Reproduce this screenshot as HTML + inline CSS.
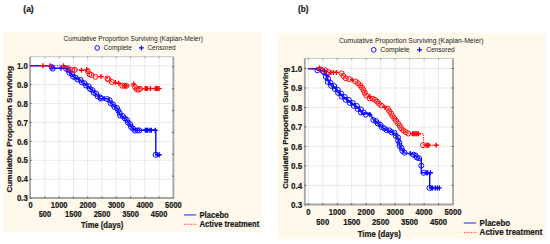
<!DOCTYPE html><html><head><meta charset="utf-8"><style>html,body{margin:0;padding:0;background:#fff;width:550px;height:244px;overflow:hidden}svg{display:block}text{font-family:"Liberation Sans", sans-serif;fill:#1a1a1a}text[font-weight=bold]{stroke:#1a1a1a;stroke-width:0.22px}</style></head><body>
<svg width="550" height="244" viewBox="0 0 550 244">
<rect width="550" height="244" fill="#fff"/>
<text x="23.3" y="12.1" font-size="9.7" font-weight="bold" stroke="#1e1e1e" stroke-width="0.35" textLength="10.4" lengthAdjust="spacingAndGlyphs">(a)</text>
<text x="297.9" y="12.1" font-size="9.7" font-weight="bold" stroke="#1e1e1e" stroke-width="0.35" textLength="10.6" lengthAdjust="spacingAndGlyphs">(b)</text>
<rect x="3" y="32" width="259" height="200" fill="#fff9ec"/>
<rect x="277" y="33" width="268.8" height="206" fill="#fff9ec"/>
<rect x="30.1" y="56.7" width="143.3" height="141.3" fill="#fff"/>
<line x1="44.88" y1="56.7" x2="44.88" y2="198.0" stroke="#e8e8e8" stroke-width="0.9"/>
<line x1="59.16" y1="56.7" x2="59.16" y2="198.0" stroke="#e8e8e8" stroke-width="0.9"/>
<line x1="73.44" y1="56.7" x2="73.44" y2="198.0" stroke="#e8e8e8" stroke-width="0.9"/>
<line x1="87.72" y1="56.7" x2="87.72" y2="198.0" stroke="#e8e8e8" stroke-width="0.9"/>
<line x1="102.00" y1="56.7" x2="102.00" y2="198.0" stroke="#e8e8e8" stroke-width="0.9"/>
<line x1="116.28" y1="56.7" x2="116.28" y2="198.0" stroke="#e8e8e8" stroke-width="0.9"/>
<line x1="130.56" y1="56.7" x2="130.56" y2="198.0" stroke="#e8e8e8" stroke-width="0.9"/>
<line x1="144.84" y1="56.7" x2="144.84" y2="198.0" stroke="#e8e8e8" stroke-width="0.9"/>
<line x1="159.12" y1="56.7" x2="159.12" y2="198.0" stroke="#e8e8e8" stroke-width="0.9"/>
<line x1="30.1" y1="65.70" x2="173.4" y2="65.70" stroke="#e8e8e8" stroke-width="0.9"/>
<line x1="30.1" y1="84.63" x2="173.4" y2="84.63" stroke="#e8e8e8" stroke-width="0.9"/>
<line x1="30.1" y1="103.56" x2="173.4" y2="103.56" stroke="#e8e8e8" stroke-width="0.9"/>
<line x1="30.1" y1="122.49" x2="173.4" y2="122.49" stroke="#e8e8e8" stroke-width="0.9"/>
<line x1="30.1" y1="141.42" x2="173.4" y2="141.42" stroke="#e8e8e8" stroke-width="0.9"/>
<line x1="30.1" y1="160.35" x2="173.4" y2="160.35" stroke="#e8e8e8" stroke-width="0.9"/>
<line x1="30.1" y1="179.28" x2="173.4" y2="179.28" stroke="#e8e8e8" stroke-width="0.9"/>
<line x1="30.1" y1="56.7" x2="173.4" y2="56.7" stroke="#c4c4c4" stroke-width="1"/>
<line x1="30.1" y1="56.7" x2="30.1" y2="198.0" stroke="#a4a4a4" stroke-width="1.8"/>
<line x1="173.4" y1="56.7" x2="173.4" y2="198.0" stroke="#a4a4a4" stroke-width="1.8"/>
<line x1="29.200000000000003" y1="198.0" x2="174.3" y2="198.0" stroke="#a4a4a4" stroke-width="1.8"/>
<line x1="44.88" y1="196.5" x2="44.88" y2="198.5" stroke="#666" stroke-width="1"/>
<line x1="44.88" y1="56.7" x2="44.88" y2="58.2" stroke="#888" stroke-width="0.8"/>
<line x1="59.16" y1="196.5" x2="59.16" y2="198.5" stroke="#666" stroke-width="1"/>
<line x1="59.16" y1="56.7" x2="59.16" y2="58.2" stroke="#888" stroke-width="0.8"/>
<line x1="73.44" y1="196.5" x2="73.44" y2="198.5" stroke="#666" stroke-width="1"/>
<line x1="73.44" y1="56.7" x2="73.44" y2="58.2" stroke="#888" stroke-width="0.8"/>
<line x1="87.72" y1="196.5" x2="87.72" y2="198.5" stroke="#666" stroke-width="1"/>
<line x1="87.72" y1="56.7" x2="87.72" y2="58.2" stroke="#888" stroke-width="0.8"/>
<line x1="102.00" y1="196.5" x2="102.00" y2="198.5" stroke="#666" stroke-width="1"/>
<line x1="102.00" y1="56.7" x2="102.00" y2="58.2" stroke="#888" stroke-width="0.8"/>
<line x1="116.28" y1="196.5" x2="116.28" y2="198.5" stroke="#666" stroke-width="1"/>
<line x1="116.28" y1="56.7" x2="116.28" y2="58.2" stroke="#888" stroke-width="0.8"/>
<line x1="130.56" y1="196.5" x2="130.56" y2="198.5" stroke="#666" stroke-width="1"/>
<line x1="130.56" y1="56.7" x2="130.56" y2="58.2" stroke="#888" stroke-width="0.8"/>
<line x1="144.84" y1="196.5" x2="144.84" y2="198.5" stroke="#666" stroke-width="1"/>
<line x1="144.84" y1="56.7" x2="144.84" y2="58.2" stroke="#888" stroke-width="0.8"/>
<line x1="159.12" y1="196.5" x2="159.12" y2="198.5" stroke="#666" stroke-width="1"/>
<line x1="159.12" y1="56.7" x2="159.12" y2="58.2" stroke="#888" stroke-width="0.8"/>
<line x1="29.6" y1="65.70" x2="31.6" y2="65.70" stroke="#666" stroke-width="1"/>
<line x1="29.6" y1="84.63" x2="31.6" y2="84.63" stroke="#666" stroke-width="1"/>
<line x1="29.6" y1="103.56" x2="31.6" y2="103.56" stroke="#666" stroke-width="1"/>
<line x1="29.6" y1="122.49" x2="31.6" y2="122.49" stroke="#666" stroke-width="1"/>
<line x1="29.6" y1="141.42" x2="31.6" y2="141.42" stroke="#666" stroke-width="1"/>
<line x1="29.6" y1="160.35" x2="31.6" y2="160.35" stroke="#666" stroke-width="1"/>
<line x1="29.6" y1="179.28" x2="31.6" y2="179.28" stroke="#666" stroke-width="1"/>
<line x1="29.6" y1="198.21" x2="31.6" y2="198.21" stroke="#666" stroke-width="1"/>
<line x1="171.9" y1="176.15" x2="173.9" y2="176.15" stroke="#666" stroke-width="1"/>
<line x1="171.9" y1="154.30" x2="173.9" y2="154.30" stroke="#666" stroke-width="1"/>
<line x1="171.9" y1="132.45" x2="173.9" y2="132.45" stroke="#666" stroke-width="1"/>
<line x1="171.9" y1="110.60" x2="173.9" y2="110.60" stroke="#666" stroke-width="1"/>
<line x1="171.9" y1="88.75" x2="173.9" y2="88.75" stroke="#666" stroke-width="1"/>
<line x1="171.9" y1="66.90" x2="173.9" y2="66.90" stroke="#666" stroke-width="1"/>
<rect x="304.8" y="58.4" width="148.2" height="146.1" fill="#fff"/>
<line x1="308.30" y1="58.4" x2="308.30" y2="204.5" stroke="#e8e8e8" stroke-width="0.9"/>
<line x1="322.77" y1="58.4" x2="322.77" y2="204.5" stroke="#e8e8e8" stroke-width="0.9"/>
<line x1="337.24" y1="58.4" x2="337.24" y2="204.5" stroke="#e8e8e8" stroke-width="0.9"/>
<line x1="351.71" y1="58.4" x2="351.71" y2="204.5" stroke="#e8e8e8" stroke-width="0.9"/>
<line x1="366.18" y1="58.4" x2="366.18" y2="204.5" stroke="#e8e8e8" stroke-width="0.9"/>
<line x1="380.65" y1="58.4" x2="380.65" y2="204.5" stroke="#e8e8e8" stroke-width="0.9"/>
<line x1="395.12" y1="58.4" x2="395.12" y2="204.5" stroke="#e8e8e8" stroke-width="0.9"/>
<line x1="409.59" y1="58.4" x2="409.59" y2="204.5" stroke="#e8e8e8" stroke-width="0.9"/>
<line x1="424.06" y1="58.4" x2="424.06" y2="204.5" stroke="#e8e8e8" stroke-width="0.9"/>
<line x1="438.53" y1="58.4" x2="438.53" y2="204.5" stroke="#e8e8e8" stroke-width="0.9"/>
<line x1="304.8" y1="68.50" x2="453.0" y2="68.50" stroke="#e8e8e8" stroke-width="0.9"/>
<line x1="304.8" y1="87.98" x2="453.0" y2="87.98" stroke="#e8e8e8" stroke-width="0.9"/>
<line x1="304.8" y1="107.46" x2="453.0" y2="107.46" stroke="#e8e8e8" stroke-width="0.9"/>
<line x1="304.8" y1="126.94" x2="453.0" y2="126.94" stroke="#e8e8e8" stroke-width="0.9"/>
<line x1="304.8" y1="146.42" x2="453.0" y2="146.42" stroke="#e8e8e8" stroke-width="0.9"/>
<line x1="304.8" y1="165.90" x2="453.0" y2="165.90" stroke="#e8e8e8" stroke-width="0.9"/>
<line x1="304.8" y1="185.38" x2="453.0" y2="185.38" stroke="#e8e8e8" stroke-width="0.9"/>
<line x1="304.8" y1="58.4" x2="453.0" y2="58.4" stroke="#c4c4c4" stroke-width="1"/>
<line x1="304.8" y1="58.4" x2="304.8" y2="204.5" stroke="#a4a4a4" stroke-width="1.8"/>
<line x1="453.0" y1="58.4" x2="453.0" y2="204.5" stroke="#a4a4a4" stroke-width="1.8"/>
<line x1="303.90000000000003" y1="204.5" x2="453.9" y2="204.5" stroke="#a4a4a4" stroke-width="1.8"/>
<line x1="308.30" y1="203.0" x2="308.30" y2="205.0" stroke="#666" stroke-width="1"/>
<line x1="308.30" y1="58.4" x2="308.30" y2="59.9" stroke="#888" stroke-width="0.8"/>
<line x1="322.77" y1="203.0" x2="322.77" y2="205.0" stroke="#666" stroke-width="1"/>
<line x1="322.77" y1="58.4" x2="322.77" y2="59.9" stroke="#888" stroke-width="0.8"/>
<line x1="337.24" y1="203.0" x2="337.24" y2="205.0" stroke="#666" stroke-width="1"/>
<line x1="337.24" y1="58.4" x2="337.24" y2="59.9" stroke="#888" stroke-width="0.8"/>
<line x1="351.71" y1="203.0" x2="351.71" y2="205.0" stroke="#666" stroke-width="1"/>
<line x1="351.71" y1="58.4" x2="351.71" y2="59.9" stroke="#888" stroke-width="0.8"/>
<line x1="366.18" y1="203.0" x2="366.18" y2="205.0" stroke="#666" stroke-width="1"/>
<line x1="366.18" y1="58.4" x2="366.18" y2="59.9" stroke="#888" stroke-width="0.8"/>
<line x1="380.65" y1="203.0" x2="380.65" y2="205.0" stroke="#666" stroke-width="1"/>
<line x1="380.65" y1="58.4" x2="380.65" y2="59.9" stroke="#888" stroke-width="0.8"/>
<line x1="395.12" y1="203.0" x2="395.12" y2="205.0" stroke="#666" stroke-width="1"/>
<line x1="395.12" y1="58.4" x2="395.12" y2="59.9" stroke="#888" stroke-width="0.8"/>
<line x1="409.59" y1="203.0" x2="409.59" y2="205.0" stroke="#666" stroke-width="1"/>
<line x1="409.59" y1="58.4" x2="409.59" y2="59.9" stroke="#888" stroke-width="0.8"/>
<line x1="424.06" y1="203.0" x2="424.06" y2="205.0" stroke="#666" stroke-width="1"/>
<line x1="424.06" y1="58.4" x2="424.06" y2="59.9" stroke="#888" stroke-width="0.8"/>
<line x1="438.53" y1="203.0" x2="438.53" y2="205.0" stroke="#666" stroke-width="1"/>
<line x1="438.53" y1="58.4" x2="438.53" y2="59.9" stroke="#888" stroke-width="0.8"/>
<line x1="304.3" y1="68.50" x2="306.3" y2="68.50" stroke="#666" stroke-width="1"/>
<line x1="304.3" y1="87.98" x2="306.3" y2="87.98" stroke="#666" stroke-width="1"/>
<line x1="304.3" y1="107.46" x2="306.3" y2="107.46" stroke="#666" stroke-width="1"/>
<line x1="304.3" y1="126.94" x2="306.3" y2="126.94" stroke="#666" stroke-width="1"/>
<line x1="304.3" y1="146.42" x2="306.3" y2="146.42" stroke="#666" stroke-width="1"/>
<line x1="304.3" y1="165.90" x2="306.3" y2="165.90" stroke="#666" stroke-width="1"/>
<line x1="304.3" y1="185.38" x2="306.3" y2="185.38" stroke="#666" stroke-width="1"/>
<line x1="304.3" y1="204.86" x2="306.3" y2="204.86" stroke="#666" stroke-width="1"/>
<line x1="451.5" y1="68.50" x2="453.5" y2="68.50" stroke="#666" stroke-width="1"/>
<line x1="451.5" y1="87.98" x2="453.5" y2="87.98" stroke="#666" stroke-width="1"/>
<line x1="451.5" y1="107.46" x2="453.5" y2="107.46" stroke="#666" stroke-width="1"/>
<line x1="451.5" y1="126.94" x2="453.5" y2="126.94" stroke="#666" stroke-width="1"/>
<line x1="451.5" y1="146.42" x2="453.5" y2="146.42" stroke="#666" stroke-width="1"/>
<line x1="451.5" y1="165.90" x2="453.5" y2="165.90" stroke="#666" stroke-width="1"/>
<line x1="451.5" y1="185.38" x2="453.5" y2="185.38" stroke="#666" stroke-width="1"/>
<text x="27.9" y="68.82" text-anchor="end" font-size="8.4" font-weight="bold" textLength="10.98" lengthAdjust="spacingAndGlyphs">1.0</text>
<text x="27.9" y="87.75" text-anchor="end" font-size="8.4" font-weight="bold" textLength="10.98" lengthAdjust="spacingAndGlyphs">0.9</text>
<text x="27.9" y="106.68" text-anchor="end" font-size="8.4" font-weight="bold" textLength="10.98" lengthAdjust="spacingAndGlyphs">0.8</text>
<text x="27.9" y="125.61" text-anchor="end" font-size="8.4" font-weight="bold" textLength="10.98" lengthAdjust="spacingAndGlyphs">0.7</text>
<text x="27.9" y="144.54" text-anchor="end" font-size="8.4" font-weight="bold" textLength="10.98" lengthAdjust="spacingAndGlyphs">0.6</text>
<text x="27.9" y="163.47" text-anchor="end" font-size="8.4" font-weight="bold" textLength="10.98" lengthAdjust="spacingAndGlyphs">0.5</text>
<text x="27.9" y="182.40" text-anchor="end" font-size="8.4" font-weight="bold" textLength="10.98" lengthAdjust="spacingAndGlyphs">0.4</text>
<text x="27.9" y="201.33" text-anchor="end" font-size="8.4" font-weight="bold" textLength="10.98" lengthAdjust="spacingAndGlyphs">0.3</text>
<text x="302.3" y="71.70" text-anchor="end" font-size="8.6" font-weight="bold" textLength="11.26" lengthAdjust="spacingAndGlyphs">1.0</text>
<text x="302.3" y="91.18" text-anchor="end" font-size="8.6" font-weight="bold" textLength="11.26" lengthAdjust="spacingAndGlyphs">0.9</text>
<text x="302.3" y="110.66" text-anchor="end" font-size="8.6" font-weight="bold" textLength="11.26" lengthAdjust="spacingAndGlyphs">0.8</text>
<text x="302.3" y="130.14" text-anchor="end" font-size="8.6" font-weight="bold" textLength="11.26" lengthAdjust="spacingAndGlyphs">0.7</text>
<text x="302.3" y="149.62" text-anchor="end" font-size="8.6" font-weight="bold" textLength="11.26" lengthAdjust="spacingAndGlyphs">0.6</text>
<text x="302.3" y="169.10" text-anchor="end" font-size="8.6" font-weight="bold" textLength="11.26" lengthAdjust="spacingAndGlyphs">0.5</text>
<text x="302.3" y="188.58" text-anchor="end" font-size="8.6" font-weight="bold" textLength="11.26" lengthAdjust="spacingAndGlyphs">0.4</text>
<text x="302.3" y="208.06" text-anchor="end" font-size="8.6" font-weight="bold" textLength="11.26" lengthAdjust="spacingAndGlyphs">0.3</text>
<text x="30.60" y="208.0" text-anchor="middle" font-size="8.3" font-weight="bold" textLength="4.17" lengthAdjust="spacingAndGlyphs">0</text>
<text x="44.88" y="217.1" text-anchor="middle" font-size="8.3" font-weight="bold" textLength="12.51" lengthAdjust="spacingAndGlyphs">500</text>
<text x="59.16" y="208.0" text-anchor="middle" font-size="8.3" font-weight="bold" textLength="16.68" lengthAdjust="spacingAndGlyphs">1000</text>
<text x="73.44" y="217.1" text-anchor="middle" font-size="8.3" font-weight="bold" textLength="16.68" lengthAdjust="spacingAndGlyphs">1500</text>
<text x="87.72" y="208.0" text-anchor="middle" font-size="8.3" font-weight="bold" textLength="16.68" lengthAdjust="spacingAndGlyphs">2000</text>
<text x="102.00" y="217.1" text-anchor="middle" font-size="8.3" font-weight="bold" textLength="16.68" lengthAdjust="spacingAndGlyphs">2500</text>
<text x="116.28" y="208.0" text-anchor="middle" font-size="8.3" font-weight="bold" textLength="16.68" lengthAdjust="spacingAndGlyphs">3000</text>
<text x="130.56" y="217.1" text-anchor="middle" font-size="8.3" font-weight="bold" textLength="16.68" lengthAdjust="spacingAndGlyphs">3500</text>
<text x="144.84" y="208.0" text-anchor="middle" font-size="8.3" font-weight="bold" textLength="16.68" lengthAdjust="spacingAndGlyphs">4000</text>
<text x="159.12" y="217.1" text-anchor="middle" font-size="8.3" font-weight="bold" textLength="16.68" lengthAdjust="spacingAndGlyphs">4500</text>
<text x="173.40" y="208.0" text-anchor="middle" font-size="8.3" font-weight="bold" textLength="16.68" lengthAdjust="spacingAndGlyphs">5000</text>
<text x="308.30" y="215.3" text-anchor="middle" font-size="8.5" font-weight="bold" textLength="4.28" lengthAdjust="spacingAndGlyphs">0</text>
<text x="322.77" y="224.6" text-anchor="middle" font-size="8.5" font-weight="bold" textLength="12.84" lengthAdjust="spacingAndGlyphs">500</text>
<text x="337.24" y="215.3" text-anchor="middle" font-size="8.5" font-weight="bold" textLength="17.12" lengthAdjust="spacingAndGlyphs">1000</text>
<text x="351.71" y="224.6" text-anchor="middle" font-size="8.5" font-weight="bold" textLength="17.12" lengthAdjust="spacingAndGlyphs">1500</text>
<text x="366.18" y="215.3" text-anchor="middle" font-size="8.5" font-weight="bold" textLength="17.12" lengthAdjust="spacingAndGlyphs">2000</text>
<text x="380.65" y="224.6" text-anchor="middle" font-size="8.5" font-weight="bold" textLength="17.12" lengthAdjust="spacingAndGlyphs">2500</text>
<text x="395.12" y="215.3" text-anchor="middle" font-size="8.5" font-weight="bold" textLength="17.12" lengthAdjust="spacingAndGlyphs">3000</text>
<text x="409.59" y="224.6" text-anchor="middle" font-size="8.5" font-weight="bold" textLength="17.12" lengthAdjust="spacingAndGlyphs">3500</text>
<text x="424.06" y="215.3" text-anchor="middle" font-size="8.5" font-weight="bold" textLength="17.12" lengthAdjust="spacingAndGlyphs">4000</text>
<text x="438.53" y="224.6" text-anchor="middle" font-size="8.5" font-weight="bold" textLength="17.12" lengthAdjust="spacingAndGlyphs">4500</text>
<text x="453.00" y="215.3" text-anchor="middle" font-size="8.5" font-weight="bold" textLength="17.12" lengthAdjust="spacingAndGlyphs">5000</text>
<text x="63.6" y="41.2" font-size="7.4" textLength="139.3" lengthAdjust="spacingAndGlyphs">Cumulative Proportion Surviving (Kaplan-Meier)</text>
<text x="338.9" y="42.9" font-size="7.2" textLength="144.6" lengthAdjust="spacingAndGlyphs">Cumulative Proportion Surviving (Kaplan-Meier)</text>
<circle cx="97.2" cy="47.9" r="2.35" fill="none" stroke="#0808ff" stroke-width="0.95"/>
<text x="103.4" y="50.42" font-size="7" textLength="28.5" lengthAdjust="spacingAndGlyphs">Complete</text>
<path d="M138.9,47.9h5M141.4,45.4v5" stroke="#0808ff" stroke-width="1.2"/>
<text x="147.4" y="50.42" font-size="7" textLength="28.3" lengthAdjust="spacingAndGlyphs">Censored</text>
<circle cx="373.7" cy="49.8" r="2.35" fill="none" stroke="#0808ff" stroke-width="0.95"/>
<text x="380.2" y="52.39" font-size="7.2" textLength="29.5" lengthAdjust="spacingAndGlyphs">Complete</text>
<path d="M417.1,49.8h5M419.6,47.3v5" stroke="#0808ff" stroke-width="1.2"/>
<text x="426.2" y="52.39" font-size="7.2" textLength="28.6" lengthAdjust="spacingAndGlyphs">Censored</text>
<text transform="translate(12.2,129.3) rotate(-90)" text-anchor="middle" font-size="8" font-weight="bold" textLength="126.5" lengthAdjust="spacingAndGlyphs">Cumulative Proportion Surviving</text>
<text transform="translate(288.1,128.1) rotate(-90)" text-anchor="middle" font-size="8" font-weight="bold" textLength="121.4" lengthAdjust="spacingAndGlyphs">Cumulative Proportion Surviving</text>
<text x="81.1" y="228.1" font-size="8.4" font-weight="bold" textLength="42.1" lengthAdjust="spacingAndGlyphs">Time (days)</text>
<text x="357.7" y="237.2" font-size="8.6" font-weight="bold" textLength="43.2" lengthAdjust="spacingAndGlyphs">Time (days)</text>
<line x1="183.9" y1="214.9" x2="196.2" y2="214.9" stroke="#7070f5" stroke-width="1.6"/>
<rect x="184.10" y="223.70" width="1.2" height="1.2" fill="#f55"/>
<rect x="186.35" y="223.70" width="1.2" height="1.2" fill="#f55"/>
<rect x="188.60" y="223.70" width="1.2" height="1.2" fill="#f55"/>
<rect x="190.85" y="223.70" width="1.2" height="1.2" fill="#f55"/>
<rect x="193.10" y="223.70" width="1.2" height="1.2" fill="#f55"/>
<rect x="195.35" y="223.70" width="1.2" height="1.2" fill="#f55"/>
<text x="199.5" y="217.6" font-size="8.4" font-weight="bold" textLength="29.2" lengthAdjust="spacingAndGlyphs">Placebo</text>
<text x="199.5" y="227.0" font-size="8.4" font-weight="bold" textLength="59.8" lengthAdjust="spacingAndGlyphs">Active treatment</text>
<line x1="463.7" y1="223.0" x2="476.2" y2="223.0" stroke="#7070f5" stroke-width="1.6"/>
<rect x="463.90" y="231.90" width="1.2" height="1.2" fill="#f55"/>
<rect x="466.15" y="231.90" width="1.2" height="1.2" fill="#f55"/>
<rect x="468.40" y="231.90" width="1.2" height="1.2" fill="#f55"/>
<rect x="470.65" y="231.90" width="1.2" height="1.2" fill="#f55"/>
<rect x="472.90" y="231.90" width="1.2" height="1.2" fill="#f55"/>
<rect x="475.15" y="231.90" width="1.2" height="1.2" fill="#f55"/>
<text x="479.6" y="225.8" font-size="8.6" font-weight="bold" textLength="30.6" lengthAdjust="spacingAndGlyphs">Placebo</text>
<text x="479.6" y="235.2" font-size="8.6" font-weight="bold" textLength="62.8" lengthAdjust="spacingAndGlyphs">Active treatment</text>
<path d="M30.2,65.7 L52.0,65.7 L52.0,68.2 L66.0,68.2 L66.4,68.4 L69.4,72.1 L72.3,75.1 L75.3,78.0 L79.7,79.8 L82.7,82.5 L85.6,84.7 L88.6,86.9 L91.5,89.8 L94.5,92.8 L97.5,95.5 L99.8,97.8 L100.8,98.6 L106.0,98.6 L107.4,98.8 L109.8,101.0 L110.7,102.7 L113.1,105.1 L115.6,107.6 L118.0,109.2 L118.9,111.7 L119.7,115.0 L123.0,116.6 L125.4,118.2 L127.0,120.7 L129.5,124.0 L131.1,126.4 L132.8,128.9 L135.2,130.3 L155.8,130.3 L155.8,154.8 L160.6,154.8" stroke="#0808ff" stroke-width="1.4" fill="none"/>
<path d="M30.2,65.7 L66.0,65.7 L67.0,68.2 L72.0,69.8 L86.0,70.0 L87.5,71.0 L89.6,74.0 L92.4,75.2 L95.9,76.6 L105.0,76.6 L107.3,78.0 L108.5,79.2 L111.9,82.1 L115.4,82.6 L118.2,83.4 L122.2,85.7 L134.0,85.7 L135.5,88.4 L140.0,88.4 L161.4,88.4" stroke="#ff0808" stroke-width="1.1" fill="none" stroke-dasharray="1.2 1.2"/>
<circle cx="51.6" cy="67.0" r="2.5" fill="none" stroke="#0808ff" stroke-width="1.0"/>
<circle cx="52.8" cy="68.6" r="2.5" fill="none" stroke="#0808ff" stroke-width="1.0"/>
<circle cx="66.0" cy="68.7" r="2.5" fill="none" stroke="#0808ff" stroke-width="1.0"/>
<circle cx="68.5" cy="70.1" r="2.5" fill="none" stroke="#0808ff" stroke-width="1.0"/>
<circle cx="69.4" cy="72.8" r="2.5" fill="none" stroke="#0808ff" stroke-width="1.0"/>
<circle cx="72.0" cy="74.0" r="2.5" fill="none" stroke="#0808ff" stroke-width="1.0"/>
<circle cx="73.1" cy="76.6" r="2.5" fill="none" stroke="#0808ff" stroke-width="1.0"/>
<circle cx="75.6" cy="77.6" r="2.5" fill="none" stroke="#0808ff" stroke-width="1.0"/>
<circle cx="77.6" cy="79.5" r="2.5" fill="none" stroke="#0808ff" stroke-width="1.0"/>
<circle cx="80.5" cy="79.8" r="2.5" fill="none" stroke="#0808ff" stroke-width="1.0"/>
<circle cx="81.8" cy="82.4" r="2.5" fill="none" stroke="#0808ff" stroke-width="1.0"/>
<circle cx="84.5" cy="83.2" r="2.5" fill="none" stroke="#0808ff" stroke-width="1.0"/>
<circle cx="86.0" cy="85.6" r="2.5" fill="none" stroke="#0808ff" stroke-width="1.0"/>
<circle cx="88.7" cy="86.4" r="2.5" fill="none" stroke="#0808ff" stroke-width="1.0"/>
<circle cx="90.0" cy="89.0" r="2.5" fill="none" stroke="#0808ff" stroke-width="1.0"/>
<circle cx="92.5" cy="90.1" r="2.5" fill="none" stroke="#0808ff" stroke-width="1.0"/>
<circle cx="93.7" cy="92.7" r="2.5" fill="none" stroke="#0808ff" stroke-width="1.0"/>
<circle cx="96.3" cy="93.8" r="2.5" fill="none" stroke="#0808ff" stroke-width="1.0"/>
<circle cx="97.6" cy="96.3" r="2.5" fill="none" stroke="#0808ff" stroke-width="1.0"/>
<circle cx="100.2" cy="97.4" r="2.5" fill="none" stroke="#0808ff" stroke-width="1.0"/>
<circle cx="100.8" cy="98.6" r="2.5" fill="none" stroke="#0808ff" stroke-width="1.0"/>
<circle cx="107.1" cy="99.1" r="2.5" fill="none" stroke="#0808ff" stroke-width="1.0"/>
<circle cx="109.7" cy="100.3" r="2.5" fill="none" stroke="#0808ff" stroke-width="1.0"/>
<circle cx="110.6" cy="103.2" r="2.5" fill="none" stroke="#0808ff" stroke-width="1.0"/>
<circle cx="113.1" cy="104.5" r="2.5" fill="none" stroke="#0808ff" stroke-width="1.0"/>
<circle cx="114.4" cy="107.0" r="2.5" fill="none" stroke="#0808ff" stroke-width="1.0"/>
<circle cx="117.0" cy="108.1" r="2.5" fill="none" stroke="#0808ff" stroke-width="1.0"/>
<circle cx="118.1" cy="110.5" r="2.5" fill="none" stroke="#0808ff" stroke-width="1.0"/>
<circle cx="119.6" cy="112.9" r="2.5" fill="none" stroke="#0808ff" stroke-width="1.0"/>
<circle cx="120.1" cy="115.6" r="2.5" fill="none" stroke="#0808ff" stroke-width="1.0"/>
<circle cx="122.9" cy="116.1" r="2.5" fill="none" stroke="#0808ff" stroke-width="1.0"/>
<circle cx="124.8" cy="118.3" r="2.5" fill="none" stroke="#0808ff" stroke-width="1.0"/>
<circle cx="126.9" cy="119.9" r="2.5" fill="none" stroke="#0808ff" stroke-width="1.0"/>
<circle cx="127.9" cy="122.5" r="2.5" fill="none" stroke="#0808ff" stroke-width="1.0"/>
<circle cx="130.1" cy="124.2" r="2.5" fill="none" stroke="#0808ff" stroke-width="1.0"/>
<circle cx="131.0" cy="126.9" r="2.5" fill="none" stroke="#0808ff" stroke-width="1.0"/>
<circle cx="133.1" cy="128.6" r="2.5" fill="none" stroke="#0808ff" stroke-width="1.0"/>
<circle cx="135.0" cy="130.6" r="2.5" fill="none" stroke="#0808ff" stroke-width="1.0"/>
<circle cx="137.3" cy="130.4" r="2.5" fill="none" stroke="#0808ff" stroke-width="1.0"/>
<circle cx="139.3" cy="130.4" r="2.5" fill="none" stroke="#0808ff" stroke-width="1.0"/>
<path d="M58.5,68.2h5.0M61.0,65.7v5.0" stroke="#0808ff" stroke-width="1.4" fill="none"/>
<path d="M101.6,98.6h5.0M104.1,96.1v5.0" stroke="#0808ff" stroke-width="1.4" fill="none"/>
<path d="M142.9,130.3h5.0M145.4,127.8v5.0" stroke="#0808ff" stroke-width="1.4" fill="none"/>
<path d="M144.1,130.3h5.0M146.6,127.8v5.0" stroke="#0808ff" stroke-width="1.4" fill="none"/>
<path d="M145.3,130.3h5.0M147.8,127.8v5.0" stroke="#0808ff" stroke-width="1.4" fill="none"/>
<path d="M147.4,130.3h5.0M149.9,127.8v5.0" stroke="#0808ff" stroke-width="1.4" fill="none"/>
<path d="M148.8,130.3h5.0M151.3,127.8v5.0" stroke="#0808ff" stroke-width="1.4" fill="none"/>
<path d="M152.8,130.3h5.0M155.3,127.8v5.0" stroke="#0808ff" stroke-width="1.4" fill="none"/>
<circle cx="155.6" cy="154.8" r="2.5" fill="none" stroke="#0808ff" stroke-width="1.0"/>
<path d="M155.1,154.8h5.0M157.6,152.3v5.0" stroke="#0808ff" stroke-width="1.4" fill="none"/>
<path d="M156.7,154.8h5.0M159.2,152.3v5.0" stroke="#0808ff" stroke-width="1.4" fill="none"/>
<path d="M40.5,65.7h5.0M43.0,63.2v5.0" stroke="#ff0808" stroke-width="1.4" fill="none"/>
<path d="M47.5,65.7h5.0M50.0,63.2v5.0" stroke="#ff0808" stroke-width="1.4" fill="none"/>
<path d="M61.0,65.7h5.0M63.5,63.2v5.0" stroke="#ff0808" stroke-width="1.4" fill="none"/>
<circle cx="68.0" cy="68.2" r="2.5" fill="none" stroke="#ff0808" stroke-width="1.0"/>
<circle cx="72.5" cy="69.8" r="2.5" fill="none" stroke="#ff0808" stroke-width="1.0"/>
<circle cx="74.8" cy="69.8" r="2.5" fill="none" stroke="#ff0808" stroke-width="1.0"/>
<path d="M79.0,70.2h5.0M81.5,67.7v5.0" stroke="#ff0808" stroke-width="1.4" fill="none"/>
<path d="M84.2,69.6h5.0M86.7,67.1v5.0" stroke="#ff0808" stroke-width="1.4" fill="none"/>
<circle cx="87.9" cy="71.2" r="2.5" fill="none" stroke="#ff0808" stroke-width="1.0"/>
<circle cx="89.6" cy="74.2" r="2.5" fill="none" stroke="#ff0808" stroke-width="1.0"/>
<circle cx="91.5" cy="75.0" r="2.5" fill="none" stroke="#ff0808" stroke-width="1.0"/>
<circle cx="95.6" cy="76.8" r="2.5" fill="none" stroke="#ff0808" stroke-width="1.0"/>
<path d="M98.5,76.6h5.0M101.0,74.1v5.0" stroke="#ff0808" stroke-width="1.4" fill="none"/>
<circle cx="107.4" cy="78.6" r="2.5" fill="none" stroke="#ff0808" stroke-width="1.0"/>
<circle cx="108.4" cy="79.4" r="2.5" fill="none" stroke="#ff0808" stroke-width="1.0"/>
<circle cx="111.9" cy="82.0" r="2.5" fill="none" stroke="#ff0808" stroke-width="1.0"/>
<path d="M112.9,82.6h5.0M115.4,80.1v5.0" stroke="#ff0808" stroke-width="1.4" fill="none"/>
<path d="M116.2,83.2h5.0M118.7,80.7v5.0" stroke="#ff0808" stroke-width="1.4" fill="none"/>
<circle cx="122.3" cy="85.7" r="2.5" fill="none" stroke="#ff0808" stroke-width="1.0"/>
<circle cx="124.6" cy="85.8" r="2.5" fill="none" stroke="#ff0808" stroke-width="1.0"/>
<circle cx="126.4" cy="85.8" r="2.5" fill="none" stroke="#ff0808" stroke-width="1.0"/>
<path d="M123.0,85.8h5.0M125.5,83.3v5.0" stroke="#ff0808" stroke-width="1.4" fill="none"/>
<path d="M131.1,84.0h5.0M133.6,81.5v5.0" stroke="#ff0808" stroke-width="1.4" fill="none"/>
<circle cx="135.2" cy="87.2" r="2.5" fill="none" stroke="#ff0808" stroke-width="1.0"/>
<circle cx="136.6" cy="89.2" r="2.5" fill="none" stroke="#ff0808" stroke-width="1.0"/>
<circle cx="138.6" cy="89.6" r="2.5" fill="none" stroke="#ff0808" stroke-width="1.0"/>
<circle cx="140.2" cy="88.8" r="2.5" fill="none" stroke="#ff0808" stroke-width="1.0"/>
<path d="M142.8,88.6h5.0M145.3,86.1v5.0" stroke="#ff0808" stroke-width="1.4" fill="none"/>
<path d="M143.8,88.6h5.0M146.3,86.1v5.0" stroke="#ff0808" stroke-width="1.4" fill="none"/>
<path d="M144.8,88.6h5.0M147.3,86.1v5.0" stroke="#ff0808" stroke-width="1.4" fill="none"/>
<path d="M147.9,88.6h5.0M150.4,86.1v5.0" stroke="#ff0808" stroke-width="1.4" fill="none"/>
<path d="M152.8,88.6h5.0M155.3,86.1v5.0" stroke="#ff0808" stroke-width="1.4" fill="none"/>
<path d="M154.0,88.6h5.0M156.5,86.1v5.0" stroke="#ff0808" stroke-width="1.4" fill="none"/>
<path d="M155.2,88.6h5.0M157.7,86.1v5.0" stroke="#ff0808" stroke-width="1.4" fill="none"/>
<path d="M156.5,88.6h5.0M159.0,86.1v5.0" stroke="#ff0808" stroke-width="1.4" fill="none"/>
<path d="M308.0,68.7 L316.5,68.7 L317.4,70.3 L322.6,70.9 L324.9,72.0 L326.6,75.5 L327.2,78.9 L328.3,81.2 L330.0,83.5 L332.3,85.8 L335.2,88.0 L337.5,90.9 L339.7,93.4 L343.0,96.7 L346.2,99.1 L349.5,101.6 L352.8,104.1 L356.1,106.5 L359.8,109.5 L362.5,113.2 L366.0,113.8 L370.0,113.0 L373.5,119.7 L378.4,123.4 L383.3,128.3 L389.5,130.8 L394.4,133.3 L398.1,138.2 L399.3,144.3 L401.8,149.2 L404.2,152.9 L410.3,153.6 L413.6,154.4 L416.5,156.7 L418.9,158.6 L421.3,158.9 L421.3,172.8 L429.7,172.8 L429.7,187.9 L440.3,187.9" stroke="#0808ff" stroke-width="1.4" fill="none"/>
<path d="M308.0,68.7 L320.5,68.7 L321.2,69.4 L324.2,69.9 L327.6,71.8 L330.0,72.6 L338.0,72.6 L341.6,73.4 L343.3,75.8 L345.7,78.3 L349.0,79.1 L352.3,79.9 L355.6,81.6 L358.0,83.2 L360.5,85.7 L363.0,89.0 L364.6,92.2 L366.2,95.5 L369.7,98.3 L372.8,98.8 L376.2,100.5 L378.7,103.5 L381.2,105.4 L384.8,107.2 L387.9,108.5 L389.1,110.9 L391.0,113.4 L392.8,116.5 L394.7,118.9 L396.5,121.4 L398.4,123.8 L400.2,126.3 L401.6,129.0 L404.6,131.5 L408.3,133.5 L423.4,133.7 L423.4,145.2 L438.8,145.2" stroke="#ff0808" stroke-width="1.1" fill="none" stroke-dasharray="1.2 1.2"/>
<circle cx="317.4" cy="70.3" r="2.5" fill="none" stroke="#0808ff" stroke-width="1.0"/>
<circle cx="322.6" cy="70.9" r="2.5" fill="none" stroke="#0808ff" stroke-width="1.0"/>
<circle cx="324.1" cy="72.4" r="2.5" fill="none" stroke="#0808ff" stroke-width="1.0"/>
<circle cx="326.8" cy="73.9" r="2.5" fill="none" stroke="#0808ff" stroke-width="1.0"/>
<circle cx="325.9" cy="76.8" r="2.5" fill="none" stroke="#0808ff" stroke-width="1.0"/>
<circle cx="328.1" cy="78.7" r="2.5" fill="none" stroke="#0808ff" stroke-width="1.0"/>
<circle cx="327.7" cy="81.9" r="2.5" fill="none" stroke="#0808ff" stroke-width="1.0"/>
<circle cx="330.6" cy="82.9" r="2.5" fill="none" stroke="#0808ff" stroke-width="1.0"/>
<circle cx="331.1" cy="85.8" r="2.5" fill="none" stroke="#0808ff" stroke-width="1.0"/>
<circle cx="334.2" cy="86.1" r="2.5" fill="none" stroke="#0808ff" stroke-width="1.0"/>
<circle cx="334.8" cy="89.0" r="2.5" fill="none" stroke="#0808ff" stroke-width="1.0"/>
<circle cx="337.8" cy="89.9" r="2.5" fill="none" stroke="#0808ff" stroke-width="1.0"/>
<circle cx="338.1" cy="92.9" r="2.5" fill="none" stroke="#0808ff" stroke-width="1.0"/>
<circle cx="341.1" cy="93.5" r="2.5" fill="none" stroke="#0808ff" stroke-width="1.0"/>
<circle cx="341.6" cy="96.6" r="2.5" fill="none" stroke="#0808ff" stroke-width="1.0"/>
<circle cx="344.7" cy="96.9" r="2.5" fill="none" stroke="#0808ff" stroke-width="1.0"/>
<circle cx="345.7" cy="99.8" r="2.5" fill="none" stroke="#0808ff" stroke-width="1.0"/>
<circle cx="348.8" cy="99.9" r="2.5" fill="none" stroke="#0808ff" stroke-width="1.0"/>
<circle cx="349.7" cy="102.9" r="2.5" fill="none" stroke="#0808ff" stroke-width="1.0"/>
<circle cx="352.8" cy="103.0" r="2.5" fill="none" stroke="#0808ff" stroke-width="1.0"/>
<circle cx="353.7" cy="105.9" r="2.5" fill="none" stroke="#0808ff" stroke-width="1.0"/>
<circle cx="356.9" cy="106.0" r="2.5" fill="none" stroke="#0808ff" stroke-width="1.0"/>
<circle cx="357.7" cy="109.0" r="2.5" fill="none" stroke="#0808ff" stroke-width="1.0"/>
<circle cx="360.9" cy="109.4" r="2.5" fill="none" stroke="#0808ff" stroke-width="1.0"/>
<circle cx="360.9" cy="112.5" r="2.5" fill="none" stroke="#0808ff" stroke-width="1.0"/>
<circle cx="363.7" cy="112.5" r="2.5" fill="none" stroke="#0808ff" stroke-width="1.0"/>
<circle cx="365.8" cy="114.7" r="2.5" fill="none" stroke="#0808ff" stroke-width="1.0"/>
<path d="M367.3,114.8h5.0M369.8,112.3v5.0" stroke="#0808ff" stroke-width="1.4" fill="none"/>
<circle cx="373.3" cy="120.0" r="2.5" fill="none" stroke="#0808ff" stroke-width="1.0"/>
<circle cx="376.0" cy="121.1" r="2.5" fill="none" stroke="#0808ff" stroke-width="1.0"/>
<circle cx="377.7" cy="123.4" r="2.5" fill="none" stroke="#0808ff" stroke-width="1.0"/>
<circle cx="380.3" cy="124.7" r="2.5" fill="none" stroke="#0808ff" stroke-width="1.0"/>
<circle cx="381.7" cy="127.2" r="2.5" fill="none" stroke="#0808ff" stroke-width="1.0"/>
<circle cx="384.3" cy="128.3" r="2.5" fill="none" stroke="#0808ff" stroke-width="1.0"/>
<circle cx="386.6" cy="130.1" r="2.5" fill="none" stroke="#0808ff" stroke-width="1.0"/>
<circle cx="389.5" cy="130.4" r="2.5" fill="none" stroke="#0808ff" stroke-width="1.0"/>
<circle cx="391.6" cy="132.3" r="2.5" fill="none" stroke="#0808ff" stroke-width="1.0"/>
<circle cx="394.5" cy="132.9" r="2.5" fill="none" stroke="#0808ff" stroke-width="1.0"/>
<circle cx="395.7" cy="135.7" r="2.5" fill="none" stroke="#0808ff" stroke-width="1.0"/>
<circle cx="398.0" cy="137.4" r="2.5" fill="none" stroke="#0808ff" stroke-width="1.0"/>
<circle cx="398.1" cy="140.4" r="2.5" fill="none" stroke="#0808ff" stroke-width="1.0"/>
<circle cx="399.4" cy="143.0" r="2.5" fill="none" stroke="#0808ff" stroke-width="1.0"/>
<circle cx="399.6" cy="145.8" r="2.5" fill="none" stroke="#0808ff" stroke-width="1.0"/>
<circle cx="401.6" cy="148.0" r="2.5" fill="none" stroke="#0808ff" stroke-width="1.0"/>
<circle cx="402.3" cy="150.8" r="2.5" fill="none" stroke="#0808ff" stroke-width="1.0"/>
<circle cx="404.5" cy="152.7" r="2.5" fill="none" stroke="#0808ff" stroke-width="1.0"/>
<path d="M407.8,153.6h5.0M410.3,151.1v5.0" stroke="#0808ff" stroke-width="1.4" fill="none"/>
<circle cx="413.4" cy="154.7" r="2.5" fill="none" stroke="#0808ff" stroke-width="1.0"/>
<circle cx="415.6" cy="155.5" r="2.5" fill="none" stroke="#0808ff" stroke-width="1.0"/>
<circle cx="416.9" cy="157.5" r="2.5" fill="none" stroke="#0808ff" stroke-width="1.0"/>
<circle cx="419.1" cy="158.3" r="2.5" fill="none" stroke="#0808ff" stroke-width="1.0"/>
<circle cx="421.3" cy="165.6" r="2.5" fill="none" stroke="#0808ff" stroke-width="1.0"/>
<circle cx="423.6" cy="172.8" r="2.5" fill="none" stroke="#0808ff" stroke-width="1.0"/>
<path d="M423.9,172.8h5.0M426.4,170.3v5.0" stroke="#0808ff" stroke-width="1.4" fill="none"/>
<path d="M425.1,172.8h5.0M427.6,170.3v5.0" stroke="#0808ff" stroke-width="1.4" fill="none"/>
<path d="M427.9,172.8h5.0M430.4,170.3v5.0" stroke="#0808ff" stroke-width="1.4" fill="none"/>
<circle cx="429.4" cy="187.9" r="2.5" fill="none" stroke="#0808ff" stroke-width="1.0"/>
<path d="M428.9,187.9h5.0M431.4,185.4v5.0" stroke="#0808ff" stroke-width="1.4" fill="none"/>
<path d="M430.1,187.9h5.0M432.6,185.4v5.0" stroke="#0808ff" stroke-width="1.4" fill="none"/>
<path d="M432.8,187.9h5.0M435.3,185.4v5.0" stroke="#0808ff" stroke-width="1.4" fill="none"/>
<path d="M434.8,187.9h5.0M437.3,185.4v5.0" stroke="#0808ff" stroke-width="1.4" fill="none"/>
<path d="M436.8,187.9h5.0M439.3,185.4v5.0" stroke="#0808ff" stroke-width="1.4" fill="none"/>
<path d="M316.8,67.9h5.0M319.3,65.4v5.0" stroke="#ff0808" stroke-width="1.4" fill="none"/>
<circle cx="321.0" cy="69.4" r="2.5" fill="none" stroke="#ff0808" stroke-width="1.0"/>
<circle cx="325.3" cy="70.4" r="2.5" fill="none" stroke="#ff0808" stroke-width="1.0"/>
<circle cx="328.2" cy="72.0" r="2.5" fill="none" stroke="#ff0808" stroke-width="1.0"/>
<path d="M328.5,72.4h5.0M331.0,69.9v5.0" stroke="#ff0808" stroke-width="1.4" fill="none"/>
<path d="M330.9,72.4h5.0M333.4,69.9v5.0" stroke="#ff0808" stroke-width="1.4" fill="none"/>
<path d="M333.9,72.4h5.0M336.4,69.9v5.0" stroke="#ff0808" stroke-width="1.4" fill="none"/>
<circle cx="341.6" cy="73.4" r="2.5" fill="none" stroke="#ff0808" stroke-width="1.0"/>
<circle cx="343.5" cy="76.0" r="2.5" fill="none" stroke="#ff0808" stroke-width="1.0"/>
<circle cx="345.8" cy="78.3" r="2.5" fill="none" stroke="#ff0808" stroke-width="1.0"/>
<circle cx="349.0" cy="79.1" r="2.5" fill="none" stroke="#ff0808" stroke-width="1.0"/>
<path d="M349.8,79.9h5.0M352.3,77.4v5.0" stroke="#ff0808" stroke-width="1.4" fill="none"/>
<circle cx="355.6" cy="81.6" r="2.5" fill="none" stroke="#ff0808" stroke-width="1.0"/>
<circle cx="358.1" cy="83.3" r="2.5" fill="none" stroke="#ff0808" stroke-width="1.0"/>
<circle cx="360.2" cy="85.4" r="2.5" fill="none" stroke="#ff0808" stroke-width="1.0"/>
<circle cx="362.0" cy="87.7" r="2.5" fill="none" stroke="#ff0808" stroke-width="1.0"/>
<circle cx="363.6" cy="90.2" r="2.5" fill="none" stroke="#ff0808" stroke-width="1.0"/>
<circle cx="364.9" cy="92.8" r="2.5" fill="none" stroke="#ff0808" stroke-width="1.0"/>
<circle cx="366.2" cy="95.5" r="2.5" fill="none" stroke="#ff0808" stroke-width="1.0"/>
<path d="M367.3,96.6h5.0M369.8,94.1v5.0" stroke="#ff0808" stroke-width="1.4" fill="none"/>
<circle cx="369.7" cy="98.3" r="2.5" fill="none" stroke="#ff0808" stroke-width="1.0"/>
<circle cx="372.5" cy="98.7" r="2.5" fill="none" stroke="#ff0808" stroke-width="1.0"/>
<circle cx="375.0" cy="99.9" r="2.5" fill="none" stroke="#ff0808" stroke-width="1.0"/>
<circle cx="377.1" cy="101.6" r="2.5" fill="none" stroke="#ff0808" stroke-width="1.0"/>
<circle cx="379.0" cy="103.7" r="2.5" fill="none" stroke="#ff0808" stroke-width="1.0"/>
<circle cx="381.2" cy="105.4" r="2.5" fill="none" stroke="#ff0808" stroke-width="1.0"/>
<path d="M382.3,107.2h5.0M384.8,104.7v5.0" stroke="#ff0808" stroke-width="1.4" fill="none"/>
<circle cx="387.9" cy="108.5" r="2.5" fill="none" stroke="#ff0808" stroke-width="1.0"/>
<circle cx="389.3" cy="111.1" r="2.5" fill="none" stroke="#ff0808" stroke-width="1.0"/>
<circle cx="391.1" cy="113.5" r="2.5" fill="none" stroke="#ff0808" stroke-width="1.0"/>
<circle cx="392.6" cy="116.1" r="2.5" fill="none" stroke="#ff0808" stroke-width="1.0"/>
<circle cx="394.4" cy="118.5" r="2.5" fill="none" stroke="#ff0808" stroke-width="1.0"/>
<circle cx="396.1" cy="120.9" r="2.5" fill="none" stroke="#ff0808" stroke-width="1.0"/>
<circle cx="398.0" cy="123.3" r="2.5" fill="none" stroke="#ff0808" stroke-width="1.0"/>
<circle cx="399.7" cy="125.7" r="2.5" fill="none" stroke="#ff0808" stroke-width="1.0"/>
<circle cx="401.2" cy="128.2" r="2.5" fill="none" stroke="#ff0808" stroke-width="1.0"/>
<circle cx="403.2" cy="130.4" r="2.5" fill="none" stroke="#ff0808" stroke-width="1.0"/>
<circle cx="405.7" cy="132.1" r="2.5" fill="none" stroke="#ff0808" stroke-width="1.0"/>
<circle cx="408.3" cy="133.5" r="2.5" fill="none" stroke="#ff0808" stroke-width="1.0"/>
<path d="M409.9,133.8h5.0M412.4,131.3v5.0" stroke="#ff0808" stroke-width="1.4" fill="none"/>
<path d="M411.1,133.8h5.0M413.6,131.3v5.0" stroke="#ff0808" stroke-width="1.4" fill="none"/>
<path d="M412.3,133.8h5.0M414.8,131.3v5.0" stroke="#ff0808" stroke-width="1.4" fill="none"/>
<path d="M413.5,133.8h5.0M416.0,131.3v5.0" stroke="#ff0808" stroke-width="1.4" fill="none"/>
<path d="M414.7,133.8h5.0M417.2,131.3v5.0" stroke="#ff0808" stroke-width="1.4" fill="none"/>
<path d="M415.9,133.8h5.0M418.4,131.3v5.0" stroke="#ff0808" stroke-width="1.4" fill="none"/>
<circle cx="423.0" cy="145.2" r="2.5" fill="none" stroke="#ff0808" stroke-width="1.0"/>
<path d="M423.9,145.2h5.0M426.4,142.7v5.0" stroke="#ff0808" stroke-width="1.4" fill="none"/>
<path d="M425.1,145.2h5.0M427.6,142.7v5.0" stroke="#ff0808" stroke-width="1.4" fill="none"/>
<path d="M426.3,145.2h5.0M428.8,142.7v5.0" stroke="#ff0808" stroke-width="1.4" fill="none"/>
<path d="M433.7,145.2h5.0M436.2,142.7v5.0" stroke="#ff0808" stroke-width="1.4" fill="none"/>
</svg></body></html>
